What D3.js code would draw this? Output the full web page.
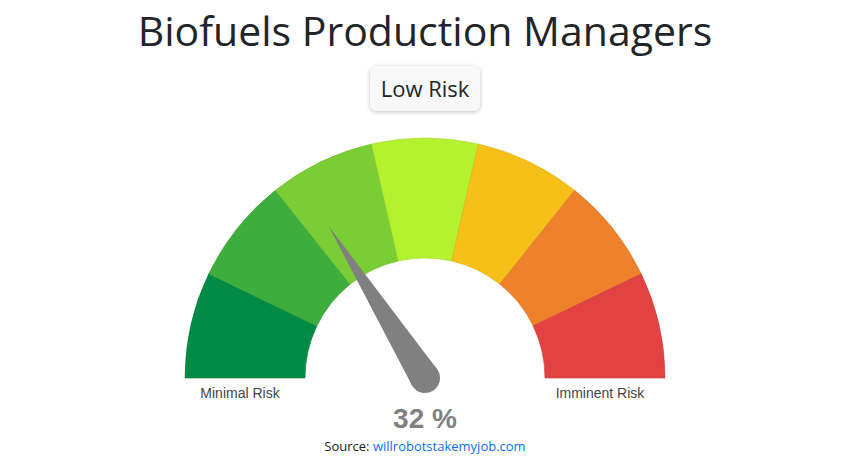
<!DOCTYPE html>
<html><head><meta charset="utf-8">
<script src="https://cdn.jsdelivr.net/npm/d3@7"></script>
<style>
body{margin:0;background:#fff;font-family:"Segoe UI","Open Sans",Roboto,sans-serif;}
</style></head>
<body><div id="chart"></div>
<script>
var title = "Biofuels Production Managers";
var riskLabel = "Low Risk";
var value = 32;
var segmentColors = ["#008a44", "#3dae3e", "#7acd34", "#b5f12e", "#f6c018", "#ef812c", "#e34242"];
var endLabels = ["Minimal Risk", "Imminent Risk"];

var svgWidth = 848, svgHeight = 465;
var cx = 425, cy = 378, outerR = 240, innerR = 120;

var svg = d3.select("#chart").append("svg")
  .attr("width", svgWidth).attr("height", svgHeight);

var defs = svg.append("defs");
var f = defs.append("filter").attr("id", "sh").attr("x", "-20%").attr("y", "-20%").attr("width", "140%").attr("height", "160%");
f.append("feDropShadow").attr("dx", 0).attr("dy", 1).attr("stdDeviation", 2).attr("flood-opacity", 0.25);

svg.append("text").attr("x", cx).attr("y", 46).attr("text-anchor", "middle")
  .attr("font-size", "41px").attr("font-weight", 500).attr("fill", "#212529").text(title);

svg.append("rect").attr("x", 370).attr("y", 66).attr("width", 110).attr("height", 45).attr("rx", 7)
  .attr("fill", "#f8f8f8").attr("filter", "url(#sh)");
svg.append("text").attr("x", cx).attr("y", 97).attr("text-anchor", "middle")
  .attr("font-size", "22px").attr("fill", "#212529").text(riskLabel);

// angle scale: 0% at left (-90deg), 100% at right (+90deg)
var angle = d3.scaleLinear().domain([0, segmentColors.length]).range([-Math.PI / 2, Math.PI / 2]);
var arc = d3.arc().innerRadius(innerR).outerRadius(outerR);

var g = svg.append("g").attr("transform", `translate(${cx},${cy})`);
g.selectAll("path.seg").data(segmentColors).enter().append("path")
  .attr("class", "seg")
  .attr("d", (d, i) => arc({startAngle: angle(i), endAngle: angle(i + 1)}))
  .attr("fill", d => d)
  .attr("stroke", d => d3.color(d).darker(0.3)).attr("stroke-width", 0.6);

// needle
var pct = d3.scaleLinear().domain([0, 100]).range([-90, 90]);
var needleLen = 180, baseR = 15;
var ng = g.append("g").attr("transform", `rotate(${pct(value)})`);
ng.append("path")
  .attr("d", `M${-baseR},0 L0,${-needleLen} L${baseR},0 Z`)
  .attr("fill", "#808080");
ng.append("circle").attr("r", baseR).attr("fill", "#808080");

svg.append("text").attr("x", 240).attr("y", 398).attr("text-anchor", "middle")
  .attr("font-size", "14px").attr("fill", "#444").attr("font-family", "Liberation Sans, Arial, sans-serif").text(endLabels[0]);
svg.append("text").attr("x", 600).attr("y", 398).attr("text-anchor", "middle")
  .attr("font-size", "14px").attr("fill", "#444").attr("font-family", "Liberation Sans, Arial, sans-serif").text(endLabels[1]);

svg.append("text").attr("x", cx).attr("y", 428).attr("text-anchor", "middle")
  .attr("font-size", "28px").attr("font-weight", "bold").attr("fill", "#808080")
  .attr("font-family", "Liberation Sans, Arial, sans-serif").text(value + " %");

var src = svg.append("text").attr("x", cx).attr("y", 451).attr("text-anchor", "middle")
  .attr("font-size", "13px").attr("fill", "#222");
src.append("tspan").text("Source: ");
src.append("tspan").attr("fill", "#0d6efd").text("willrobotstakemyjob.com");
</script></body></html>
